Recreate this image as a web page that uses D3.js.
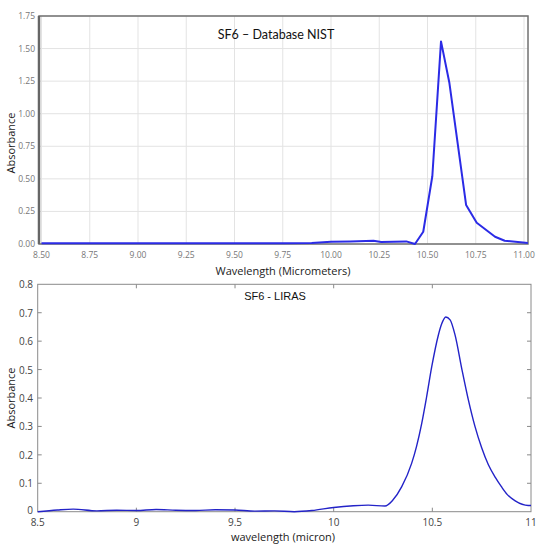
<!DOCTYPE html>
<html>
<head>
<script src="https://d3js.org/d3.v7.min.js"></script>
<style>
  body { margin: 0; background: #fff; }
</style>
</head>
<body>
<div id="chart"></div>
<script>
// top panel: NIST database spectrum
const nistWl  = [8.50, 8.75, 9.00, 9.25, 9.50, 9.75, 9.90, 10.00, 10.10, 10.22, 10.26, 10.39, 10.435, 10.478, 10.525, 10.570, 10.613, 10.70, 10.755, 10.85, 10.90, 11.02];
const nistAbs = [0.005, 0.005, 0.005, 0.005, 0.005, 0.006, 0.008, 0.018, 0.020, 0.025, 0.015, 0.020, 0.0, 0.094, 0.52, 1.555, 1.24, 0.30, 0.163, 0.056, 0.025, 0.008];
const nistXTicks = [8.50, 8.75, 9.00, 9.25, 9.50, 9.75, 10.00, 10.25, 10.50, 10.75, 11.00];
const nistYTicks = [0, 0.25, 0.50, 0.75, 1.00, 1.25, 1.50, 1.75];

// bottom panel: LIRAS measurement
const lirasWl  = [8.5, 8.6, 8.68, 8.8, 8.9, 9.0, 9.1, 9.2, 9.3, 9.4, 9.5, 9.6, 9.7, 9.8, 9.89, 10.0, 10.1, 10.175, 10.26, 10.30, 10.345, 10.395, 10.42, 10.446, 10.47, 10.497, 10.53, 10.547, 10.568, 10.59, 10.615, 10.65, 10.682, 10.716, 10.75, 10.784, 10.82, 10.85, 10.88, 10.92, 10.986, 11.0];
const lirasAbs = [0.000, 0.006, 0.009, 0.003, 0.005, 0.004, 0.008, 0.005, 0.004, 0.007, 0.006, 0.002, 0.003, 0.000, 0.004, 0.015, 0.021, 0.023, 0.020, 0.041, 0.088, 0.17, 0.23, 0.31, 0.40, 0.51, 0.62, 0.66, 0.685, 0.675, 0.622, 0.50, 0.395, 0.30, 0.225, 0.165, 0.12, 0.088, 0.06, 0.038, 0.022, 0.022];
const lirasXTicks = [8.5, 9, 9.5, 10, 10.5, 11];
const lirasYTicks = [0, 0.1, 0.2, 0.3, 0.4, 0.5, 0.6, 0.7, 0.8];

const W = 550, H = 547;
const svg = d3.select("#chart").append("svg")
    .attr("width", W).attr("height", H);

// ---------- top chart ----------
const box1 = {left: 39, right: 528, top: 16, bottom: 244};
const x1 = d3.scaleLinear().domain([8.5, 11]).range([41.5, 524]);
const y1 = d3.scaleLinear().domain([0, 1.75]).range([box1.bottom, box1.top]);
const g1 = svg.append("g");

// grid
g1.selectAll(".vgrid").data(nistXTicks).join("line")
    .attr("x1", d => x1(d)).attr("x2", d => x1(d))
    .attr("y1", box1.top).attr("y2", box1.bottom)
    .attr("stroke", "#e3e3e3").attr("stroke-width", 1);
g1.selectAll(".hgrid").data(nistYTicks).join("line")
    .attr("x1", box1.left).attr("x2", box1.right)
    .attr("y1", d => y1(d)).attr("y2", d => y1(d))
    .attr("stroke", "#e3e3e3").attr("stroke-width", 1);

// frame
g1.append("rect")
    .attr("x", box1.left).attr("y", box1.top)
    .attr("width", box1.right - box1.left).attr("height", box1.bottom - box1.top)
    .attr("fill", "none").attr("stroke", "#707070").attr("stroke-width", 1.5);
g1.append("line")
    .attr("x1", box1.left).attr("x2", box1.left)
    .attr("y1", box1.top).attr("y2", box1.bottom)
    .attr("stroke", "#666").attr("stroke-width", 2.5);

// tick labels
g1.selectAll(".xl").data(nistXTicks).join("text")
    .attr("x", d => x1(d)).attr("y", 258)
    .attr("text-anchor", "middle")
    .style("font", "8.5px 'Open Sans', sans-serif").style("fill", "#777")
    .text(d3.format(".2f"));
g1.selectAll(".yl").data(nistYTicks).join("text")
    .attr("x", 35).attr("y", d => y1(d) + 3)
    .attr("text-anchor", "end")
    .style("font", "8.5px 'Open Sans', sans-serif").style("fill", "#777")
    .text(d3.format(".2f"));

// line
g1.append("path")
    .datum(nistWl.map((w, i) => [w, nistAbs[i]]))
    .attr("fill", "none").attr("stroke", "#2b2be6").attr("stroke-width", 2)
    .attr("stroke-linejoin", "round")
    .attr("d", d3.line().x(d => x1(d[0])).y(d => y1(d[1])));

// titles
g1.append("text").attr("x", 276).attr("y", 39).attr("text-anchor", "middle")
    .style("font", "12.5px Lato, sans-serif").style("fill", "#111")
    .text("SF6 \u2013 Database NIST");
g1.append("text").attr("x", 283).attr("y", 275).attr("text-anchor", "middle")
    .style("font", "11px 'Open Sans', sans-serif").style("fill", "#222")
    .text("Wavelength (Micrometers)");
g1.append("text").attr("transform", "translate(15,143) rotate(-90)")
    .attr("text-anchor", "middle")
    .style("font", "11px 'Open Sans', sans-serif").style("fill", "#222")
    .text("Absorbance");

// ---------- bottom chart ----------
const box2 = {left: 37.7, right: 531, top: 284.3, bottom: 511.7};
const x2 = d3.scaleLinear().domain([8.5, 11]).range([box2.left, box2.right]);
const y2 = d3.scaleLinear().domain([0, 0.8]).range([box2.bottom, box2.top]);
const g2 = svg.append("g");

g2.append("rect")
    .attr("x", box2.left).attr("y", box2.top)
    .attr("width", box2.right - box2.left).attr("height", box2.bottom - box2.top)
    .attr("fill", "none").attr("stroke", "#8a8a8a").attr("stroke-width", 1);

const tk = 4;
// inward ticks, all four sides
g2.selectAll(".tb").data(lirasXTicks.slice(1, -1)).join("line")
    .attr("x1", d => x2(d)).attr("x2", d => x2(d))
    .attr("y1", box2.bottom).attr("y2", box2.bottom - tk)
    .attr("stroke", "#8a8a8a");
g2.selectAll(".tt").data(lirasXTicks.slice(1, -1)).join("line")
    .attr("x1", d => x2(d)).attr("x2", d => x2(d))
    .attr("y1", box2.top).attr("y2", box2.top + tk)
    .attr("stroke", "#8a8a8a");
g2.selectAll(".tl").data(lirasYTicks.slice(1, -1)).join("line")
    .attr("x1", box2.left).attr("x2", box2.left + tk)
    .attr("y1", d => y2(d)).attr("y2", d => y2(d))
    .attr("stroke", "#8a8a8a");
g2.selectAll(".tr").data(lirasYTicks.slice(1, -1)).join("line")
    .attr("x1", box2.right).attr("x2", box2.right - tk)
    .attr("y1", d => y2(d)).attr("y2", d => y2(d))
    .attr("stroke", "#8a8a8a");

g2.selectAll(".xl").data(lirasXTicks).join("text")
    .attr("x", d => x2(d)).attr("y", 526)
    .attr("text-anchor", "middle")
    .style("font", "10px 'Open Sans', sans-serif").style("fill", "#444")
    .text(d => String(d));
g2.selectAll(".yl").data(lirasYTicks).join("text")
    .attr("x", 33).attr("y", d => y2(d) + (d === 0 ? 2 : 4))
    .attr("text-anchor", "end")
    .style("font", "10px 'Open Sans', sans-serif").style("fill", "#444")
    .text(d => String(d));

g2.append("path")
    .datum(lirasWl.map((w, i) => [w, lirasAbs[i]]))
    .attr("fill", "none").attr("stroke", "#2323c8").attr("stroke-width", 1.4)
    .attr("d", d3.line().curve(d3.curveMonotoneX).x(d => x2(d[0])).y(d => y2(d[1])));

g2.append("text").attr("x", 275).attr("y", 300).attr("text-anchor", "middle")
    .style("font", "11px 'Liberation Sans', Arial, sans-serif").style("fill", "#111")
    .text("SF6 - LIRAS");
g2.append("text").attr("x", 283).attr("y", 541).attr("text-anchor", "middle")
    .style("font", "11px 'Open Sans', sans-serif").style("fill", "#222")
    .text("wavelength (micron)");
g2.append("text").attr("transform", "translate(15,398) rotate(-90)")
    .attr("text-anchor", "middle")
    .style("font", "11px 'Open Sans', sans-serif").style("fill", "#222")
    .text("Absorbance");
</script>
</body>
</html>
